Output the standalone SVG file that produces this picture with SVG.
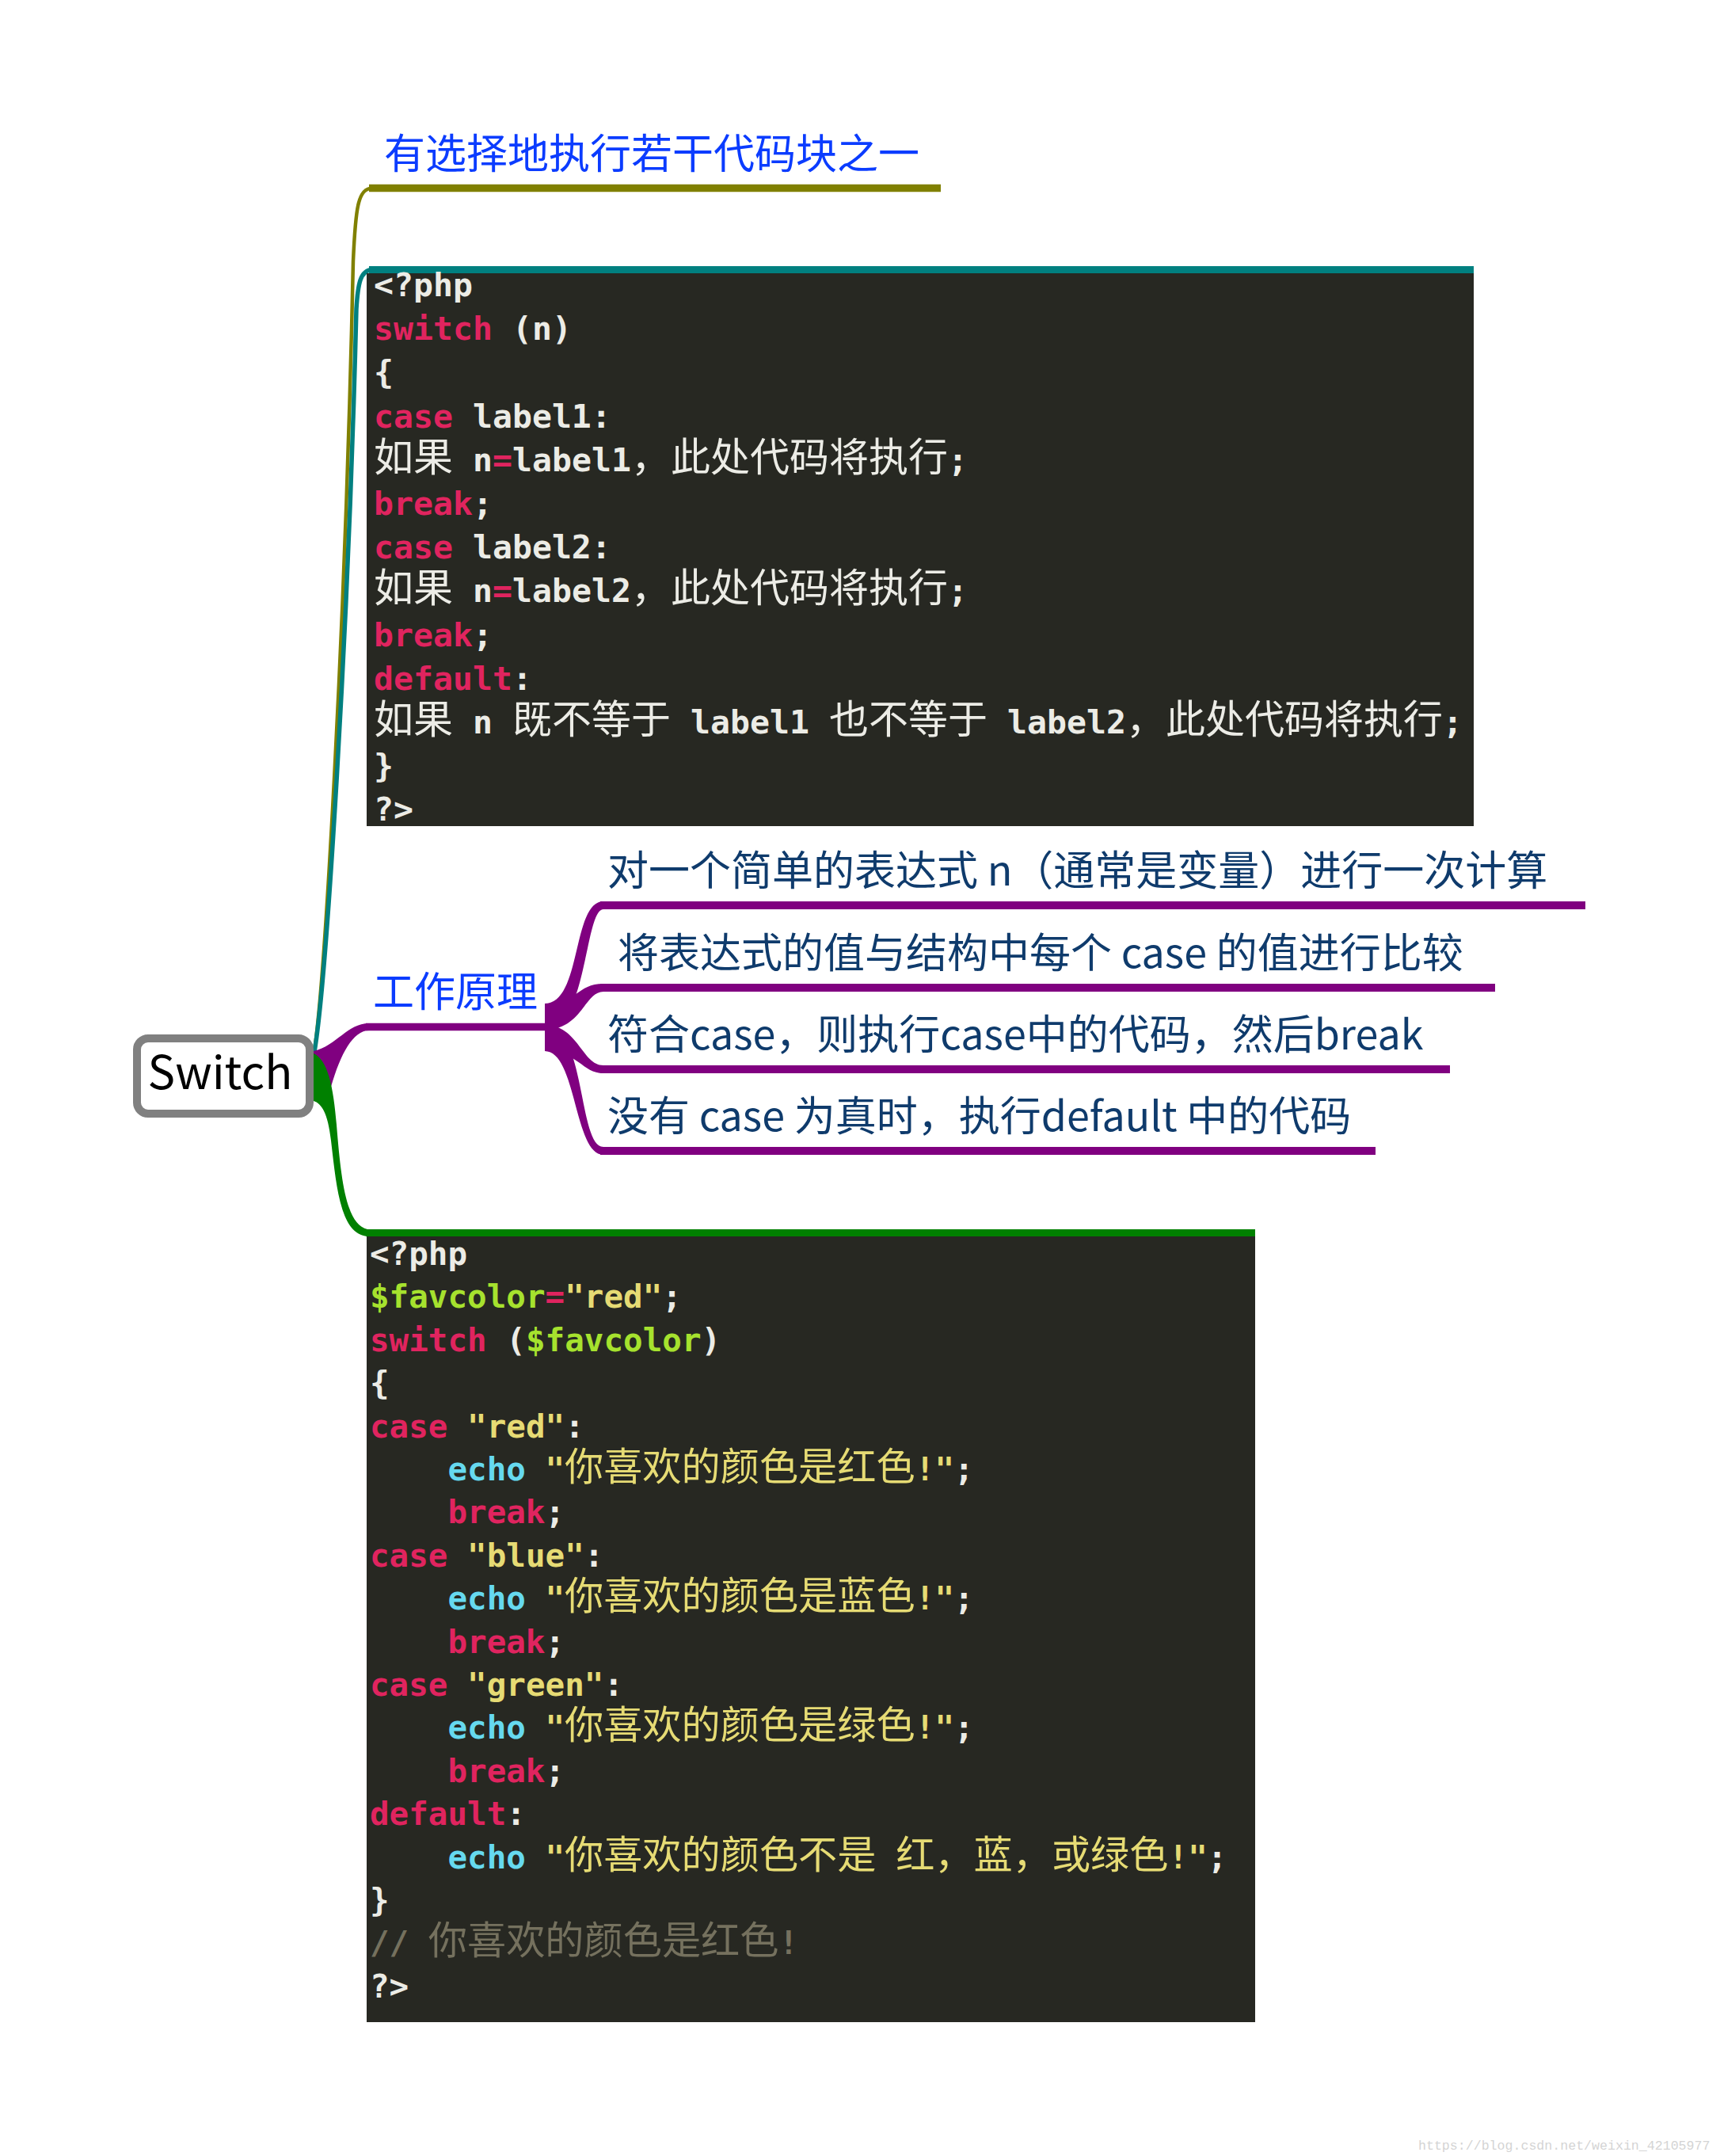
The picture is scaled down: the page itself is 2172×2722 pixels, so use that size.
<svg xmlns="http://www.w3.org/2000/svg" width="2172" height="2722" viewBox="0 0 2172 2722">
<defs>
<style>
.bg{fill:#ffffff}
.mm{font-family:"Noto Sans CJK SC","Noto Sans",sans-serif;font-size:52px}
.blue{fill:#0b3cff}
.navy{fill:#0f3b6c}
.codebg{fill:#272822}
.c1{font-family:"DejaVu Sans Mono","Liberation Mono",monospace;font-size:41.5px;font-weight:bold;fill:#ecece6}
.c2{font-family:"DejaVu Sans Mono","Liberation Mono",monospace;font-size:40.9px;font-weight:bold;fill:#ecece6}
.j1{font-family:"Noto Sans CJK SC",sans-serif;font-size:50px;font-weight:normal}
.j2{font-family:"Noto Sans CJK SC",sans-serif;font-size:49.2px;font-weight:normal}
.k{fill:#e0245f}
.s{fill:#e6db74}
.v{fill:#a6e22e}
.f{fill:#66d9ef}
.cm{fill:#75715e}
.ul{fill:none;stroke-linecap:butt}
</style>
</defs>
<rect class="bg" x="0" y="0" width="2172" height="2722"/>

<g id="connectors">
  <path d="M397,1326 C410,1240 436,800 446,330 C449,262 452,238 470,237.5" fill="none" stroke="#808000" stroke-width="4.5"/>
  <path d="M397,1328 C412,1240 440,800 450,390 C452,358 455,341 470,340.5" fill="none" stroke="#008080" stroke-width="5.5"/>
  <path d="M396,1327 C426,1320 438,1292 466,1292 L466,1301 C446,1301 430,1330 418,1372 C412,1352 404,1336 396,1333 Z" fill="#800080"/>
  <path d="M396,1330 C414,1338 421,1372 425,1420 C431,1495 438,1546 464,1552 L464,1561 C430,1558 425,1500 418,1440 C414,1405 406,1393 396,1390 Z" fill="#008000"/>
  <path d="M688,1267 C735,1267 722,1138 762,1138 L762,1148 C738,1148 742,1300 688,1300 Z" fill="#800080"/>
  <path d="M688,1267 C730,1267 728,1242 762,1242 L762,1252 C738,1252 735,1300 688,1300 Z" fill="#800080"/>
  <path d="M688,1294 C730,1294 735,1345 762,1345 L762,1355 C735,1355 730,1327 688,1327 Z" fill="#800080"/>
  <path d="M688,1294 C740,1294 730,1448 762,1448 L762,1458 C725,1458 728,1327 688,1327 Z" fill="#800080"/>
  <rect x="688" y="1290" width="12" height="37" fill="#800080"/>
</g>

<g id="node-switch">
  <rect x="173" y="1311" width="218" height="95" rx="14" ry="14" fill="#ffffff" stroke="#808080" stroke-width="10"/>
  <text x="278" y="1375" text-anchor="middle" font-family="'Noto Sans CJK SC','Open Sans',sans-serif" font-size="58" fill="#000000">Switch</text>
</g>

<g id="node-desc">
  <line class="ul" x1="466" y1="237.5" x2="1188" y2="237.5" stroke="#808000" stroke-width="9.5"/>
  <text class="mm blue" x="485" y="213">有选择地执行若干代码块之一</text>
</g>

<g id="node-code1">
  <line class="ul" x1="466" y1="340.5" x2="1861" y2="340.5" stroke="#008080" stroke-width="9"/>
  <rect class="codebg" x="463" y="345" width="1398" height="698"/>
  <text class="c1" x="472" y="374">&lt;?php</text>
  <text class="c1" x="472" y="429.2"><tspan class="k">switch</tspan> (n)</text>
  <text class="c1" x="472" y="484.4">{</text>
  <text class="c1" x="472" y="539.6"><tspan class="k">case</tspan> label1:</text>
  <text class="c1" y="594.8"><tspan class="j1" x="472">如果</tspan><tspan x="597">n<tspan class="k">=</tspan>label1</tspan><tspan class="j1" x="797">，此处代码将执行</tspan><tspan x="1197">;</tspan></text>
  <text class="c1" x="472" y="650"><tspan class="k">break</tspan>;</text>
  <text class="c1" x="472" y="705.2"><tspan class="k">case</tspan> label2:</text>
  <text class="c1" y="760.4"><tspan class="j1" x="472">如果</tspan><tspan x="597">n<tspan class="k">=</tspan>label2</tspan><tspan class="j1" x="797">，此处代码将执行</tspan><tspan x="1197">;</tspan></text>
  <text class="c1" x="472" y="815.6"><tspan class="k">break</tspan>;</text>
  <text class="c1" x="472" y="870.8"><tspan class="k">default</tspan>:</text>
  <text class="c1" y="926"><tspan class="j1" x="472">如果</tspan><tspan x="597">n</tspan><tspan class="j1" x="647">既不等于</tspan><tspan x="872">label1</tspan><tspan class="j1" x="1047">也不等于</tspan><tspan x="1272">label2</tspan><tspan class="j1" x="1422">，此处代码将执行</tspan><tspan x="1822">;</tspan></text>
  <text class="c1" x="472" y="981.2">}</text>
  <text class="c1" x="472" y="1036.4">?&gt;</text>
</g>

<g id="node-principle">
  <line class="ul" x1="462" y1="1296.5" x2="700" y2="1296.5" stroke="#800080" stroke-width="9.5"/>
  <text class="mm blue" x="471" y="1271">工作原理</text>
</g>

<g id="node-p1">
  <line class="ul" x1="758" y1="1143" x2="2002" y2="1143" stroke="#800080" stroke-width="10"/>
  <text class="mm navy" x="767" y="1118">对一个简单的表达式 n（通常是变量）进行一次计算</text>
</g>
<g id="node-p2">
  <line class="ul" x1="758" y1="1247" x2="1888" y2="1247" stroke="#800080" stroke-width="10"/>
  <text class="mm navy" x="780" y="1222">将表达式的值与结构中每个 case 的值进行比较</text>
</g>
<g id="node-p3">
  <line class="ul" x1="758" y1="1350" x2="1831" y2="1350" stroke="#800080" stroke-width="10"/>
  <text class="mm navy" x="767" y="1325">符合case，则执行case中的代码，然后break</text>
</g>
<g id="node-p4">
  <line class="ul" x1="758" y1="1453" x2="1737" y2="1453" stroke="#800080" stroke-width="10"/>
  <text class="mm navy" x="767" y="1428">没有 case 为真时，执行default 中的代码</text>
</g>

<g id="node-code2">
  <line class="ul" x1="462" y1="1556.5" x2="1585" y2="1556.5" stroke="#008000" stroke-width="9"/>
  <rect class="codebg" x="463" y="1561" width="1122" height="992"/>
  <text class="c2" x="467" y="1597">&lt;?php</text>
  <text class="c2" x="467" y="1651.4"><tspan class="v">$favcolor</tspan><tspan class="k">=</tspan><tspan class="s">"red"</tspan>;</text>
  <text class="c2" x="467" y="1705.8"><tspan class="k">switch</tspan> (<tspan class="v">$favcolor</tspan>)</text>
  <text class="c2" x="467" y="1760.2">{</text>
  <text class="c2" x="467" y="1814.6"><tspan class="k">case</tspan> <tspan class="s">"red"</tspan>:</text>
  <text class="c2" y="1869"><tspan class="f" x="565.4">echo</tspan> <tspan class="s">"</tspan><tspan class="j2 s" x="713">你喜欢的颜色是红色</tspan><tspan class="s" x="1155.8">!"</tspan>;</text>
  <text class="c2" x="565.4" y="1923.4"><tspan class="k">break</tspan>;</text>
  <text class="c2" x="467" y="1977.8"><tspan class="k">case</tspan> <tspan class="s">"blue"</tspan>:</text>
  <text class="c2" y="2032.2"><tspan class="f" x="565.4">echo</tspan> <tspan class="s">"</tspan><tspan class="j2 s" x="713">你喜欢的颜色是蓝色</tspan><tspan class="s" x="1155.8">!"</tspan>;</text>
  <text class="c2" x="565.4" y="2086.6"><tspan class="k">break</tspan>;</text>
  <text class="c2" x="467" y="2141"><tspan class="k">case</tspan> <tspan class="s">"green"</tspan>:</text>
  <text class="c2" y="2195.4"><tspan class="f" x="565.4">echo</tspan> <tspan class="s">"</tspan><tspan class="j2 s" x="713">你喜欢的颜色是绿色</tspan><tspan class="s" x="1155.8">!"</tspan>;</text>
  <text class="c2" x="565.4" y="2249.8"><tspan class="k">break</tspan>;</text>
  <text class="c2" x="467" y="2304.2"><tspan class="k">default</tspan>:</text>
  <text class="c2" y="2358.6"><tspan class="f" x="565.4">echo</tspan> <tspan class="s">"</tspan><tspan class="j2 s" x="713">你喜欢的颜色不是</tspan><tspan class="j2 s" x="1131.2">红，蓝，或绿色</tspan><tspan class="s" x="1475.6">!"</tspan>;</text>
  <text class="c2" x="467" y="2413">}</text>
  <text class="c2 cm" y="2467.4"><tspan x="467">//</tspan><tspan class="j2" x="540.8">你喜欢的颜色是红色</tspan><tspan x="983.6">!</tspan></text>
  <text class="c2" x="467" y="2521.8">?&gt;</text>
</g>

<text x="1791" y="2714" font-family="'Liberation Mono',monospace" font-size="16.6" fill="#d4d4d4">https://blog.csdn.net/weixin_42105977</text>
</svg>
